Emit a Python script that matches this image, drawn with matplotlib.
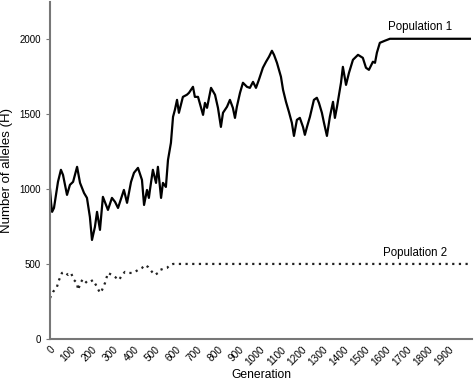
import numpy as np
import matplotlib
matplotlib.use("Agg")
import matplotlib.pyplot as plt

plt.rcParams["font.family"] = ["Liberation Sans", "DejaVu Sans"]

# Population 1 (solid line)
pop1_gen = [0, 5, 10, 19, 38, 52, 62, 81, 95, 110, 129, 143, 162, 176, 190, 200,
            214, 224, 238, 252, 276, 295, 310, 324, 352, 367, 386, 400, 419, 438,
            448, 462, 471, 476, 490, 505, 514, 529, 538, 552, 562, 576, 586, 595,
            605, 614, 633, 652, 662, 681, 690, 705, 729, 738, 748, 767, 786, 800,
            814, 824, 843, 857, 871, 881, 890, 905, 919, 938, 952, 967, 981, 995,
            1014, 1029, 1043, 1057, 1067, 1081, 1100, 1110, 1124, 1138, 1152, 1162,
            1176, 1190, 1205, 1214, 1224, 1238, 1257, 1271, 1281, 1295, 1305, 1319,
            1333, 1348, 1357, 1367, 1386, 1395, 1410, 1424, 1443, 1467, 1490, 1505,
            1519, 1538, 1548, 1557, 1571, 1595, 1619, 2000]
pop1_val = [1000, 907, 847, 873, 1047, 1127, 1093, 960, 1027, 1047, 1147, 1040, 973, 940,
            813, 660, 747, 847, 727, 947, 860, 940, 913, 873, 993, 907, 1047, 1107, 1140,
            1060, 893, 993, 940, 993, 1127, 1040, 1147, 940, 1040, 1013, 1193, 1307, 1480,
            1527, 1593, 1507, 1613, 1627, 1640, 1680, 1613, 1613, 1493, 1573, 1540, 1673,
            1627, 1540, 1413, 1507, 1547, 1593, 1540, 1473, 1547, 1640, 1707, 1680, 1673,
            1713, 1673, 1727, 1807, 1847, 1880, 1920, 1893, 1840, 1747, 1660, 1580, 1513,
            1440, 1353, 1460, 1473, 1413, 1360, 1413, 1480, 1593, 1607, 1573, 1507, 1440,
            1353, 1480, 1580, 1473, 1547, 1707, 1813, 1693, 1773, 1860, 1893, 1873, 1807,
            1793, 1847, 1840, 1907, 1973, 1987, 2000, 2000]

# Population 2 (dotted line)
pop2_gen = [0, 14, 33, 43, 57, 67, 86, 100, 114, 129, 133, 148, 157, 176, 190, 205,
            224, 238, 248, 262, 276, 295, 310, 329, 343, 357, 371, 390, 405, 419, 438,
            452, 467, 486, 500, 514, 524, 538, 557, 571, 586, 2000]
pop2_val = [273, 313, 347, 393, 440, 447, 427, 440, 393, 373, 327, 380, 400, 373, 380,
            393, 347, 307, 327, 373, 440, 427, 413, 393, 427, 447, 440, 440, 447, 460,
            473, 493, 480, 447, 427, 440, 460, 467, 473, 493, 500, 500]

x_ticks = list(range(0, 2000, 100))
y_ticks = [0, 500, 1000, 1500, 2000]

fig = plt.figure(figsize=(4.74, 3.87), dpi=100)
ax = fig.add_axes([50 / 474, 48 / 387, 422 / 474, 337 / 387])

ax.plot(pop1_gen, pop1_val, color="black", lw=1.6)
ax.plot(pop2_gen, pop2_val, color="#222222", lw=1.6, linestyle=(0, (1, 2.0)))

ax.text(1610, 2080, "Population 1", fontsize=8.3, ha="left", va="center")
ax.text(1586, 573, "Population 2", fontsize=8.3, ha="left", va="center")

ax.set_xlim(0, 2010)
ax.set_ylim(0, 2245)
ax.set_xticks(x_ticks)
ax.set_xticklabels([str(t) for t in x_ticks], rotation=45, ha="right",
                   rotation_mode="anchor", fontsize=7.3)
ax.set_yticks(y_ticks)
ax.tick_params(axis="y", labelsize=7, length=3, color="#777777")
ax.tick_params(axis="x", length=0, pad=4)

ax.set_xlabel("Generation", fontsize=8.7, labelpad=1)
ax.set_ylabel("Number of alleles (H)", fontsize=9.5, labelpad=5)

for side in ["top", "right"]:
    ax.spines[side].set_visible(False)
for side in ["left", "bottom"]:
    ax.spines[side].set_color("#777777")
    ax.spines[side].set_linewidth(1.5)

fig.savefig("out.png", dpi=100)
plt.close()
